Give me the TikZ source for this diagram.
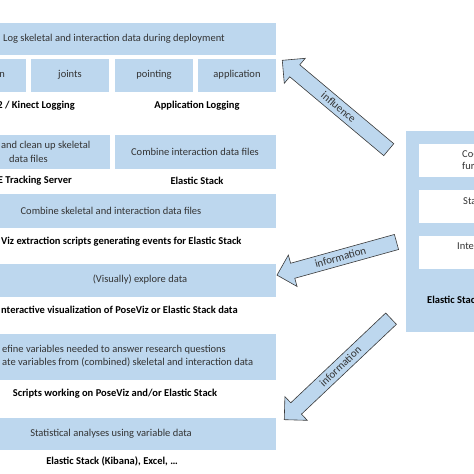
\documentclass[tikz,border=0pt]{standalone}
\usepackage{fontspec}
\setmainfont{Carlito}
\usetikzlibrary{shapes.arrows}
\definecolor{boxblue}{HTML}{BDD7EE}
\definecolor{arrowline}{HTML}{3A3A3A}
\definecolor{boxtext}{HTML}{333333}

\begin{document}
\begin{tikzpicture}[
  x=1pt, y=-1pt,
  font=\fontsize{10.5}{12.5}\selectfont,
  box/.style={fill=boxblue, draw=none, anchor=north west, inner sep=0pt},
  whitebox/.style={fill=white, draw=none, anchor=north west, inner sep=0pt},
  txt/.style={text=boxtext, inner sep=0pt},
  lbl/.style={font=\fontsize{10.5}{12.5}\selectfont\bfseries, inner sep=0pt},
  bigarrow/.style={single arrow, draw=arrowline, fill=boxblue, semithick,
                   font=\fontsize{11}{13}\selectfont,
                   single arrow head extend=8.5pt, inner xsep=1pt, inner ysep=0pt,
                   text height=11pt, text depth=4pt,
                   shape border rotate=180, text=boxtext},
]
\useasboundingbox (0,0) rectangle (474,474);
\clip (0,0) rectangle (474,474);

% deployment logging
\node[box, minimum width=316pt, minimum height=32pt] (logbox) at (-40,23) {};
\node[txt, anchor=west] (logtxt) at (3,39) {Log skeletal and interaction data during deployment};

\node[box, minimum width=66pt, minimum height=33pt] (skelbox) at (-40,59) {};
\node[txt, anchor=east] (skeltxt) at (5,75) {n};
\node[box, minimum width=78pt, minimum height=33pt] (joints) at (31,59) {};
\node[txt] (jointstxt) at (70,75) {joints};
\node[box, minimum width=78pt, minimum height=33pt] (pointing) at (115,59) {};
\node[txt] (pointingtxt) at (154,75) {pointing};
\node[box, minimum width=78pt, minimum height=33pt] (application) at (198,59) {};
\node[txt] (applicationtxt) at (237,75) {application};

\node[lbl, anchor=east] (kinectlbl) at (75,106) {2 / Kinect Logging};
\node[lbl] (applbl) at (197,106) {Application Logging};

% cleaning
\node[box, minimum width=150pt, minimum height=34pt] (cleanbox) at (-40,135) {};
\node[txt, anchor=west] (cleantxt1) at (1,146) {and clean up skeletal};
\node[txt, anchor=west] (cleantxt2) at (9,159) {data files};
\node[box, minimum width=161pt, minimum height=34pt] (combinebox) at (115,135) {};
\node[txt] (combinetxt) at (195,152) {Combine interaction data files};

\node[lbl, anchor=east] (trackinglbl) at (72,181) {E Tracking Server};
\node[lbl] (elasticlbl) at (197,181) {Elastic Stack};

% merging
\node[box, minimum width=316pt, minimum height=34pt] (mergebox) at (-40,194) {};
\node[txt] (mergetxt) at (111,211) {Combine skeletal and interaction data files};
\node[lbl, anchor=west] (extractlbl) at (1,242) {Viz extraction scripts generating events for Elastic Stack};

% exploring
\node[box, minimum width=316pt, minimum height=33pt] (explorebox) at (-40,264) {};
\node[txt] (exploretxt) at (140,280) {(Visually) explore data};
\node[lbl, anchor=west] (explorelbl) at (1,310) {nteractive visualization of PoseViz or Elastic Stack data};

% variables
\node[box, minimum width=316pt, minimum height=46pt] (varbox) at (-40,334) {};
\node[txt, anchor=west, align=left] (vartxt) at (2,356)
  {efine variables needed to answer research questions\\ate variables from (combined) skeletal and interaction data};
\node[lbl] (scriptlbl) at (115,394) {Scripts working on PoseViz and/or Elastic Stack};

% statistics
\node[box, minimum width=316pt, minimum height=32pt] (statbox) at (-40,418) {};
\node[txt] (stattxt) at (111,434) {Statistical analyses using variable data};
\node[lbl] (statlbl) at (112,461) {Elastic Stack (Kibana), Excel, \dots};

% right panel
\node[box, minimum width=90pt, minimum height=201pt] (panel) at (406,131) {};
\node[whitebox, minimum width=80pt, minimum height=33pt] (panelA) at (419,144) {};
\node[txt, anchor=west, align=left] (panelAtxt) at (462,160) {Co-\\fur};
\node[whitebox, minimum width=80pt, minimum height=33pt] (panelB) at (419,190) {};
\node[txt, anchor=west] (panelBtxt) at (463,201) {Sta};
\node[whitebox, minimum width=80pt, minimum height=33pt] (panelC) at (419,236) {};
\node[txt, anchor=west] (panelCtxt) at (457,246) {Inte};
\node[lbl, anchor=west] (panellbl) at (427,300) {Elastic Stac};

% block arrows
\node[bigarrow, minimum height=139pt, rotate=-40] (influence) at (338.5,107.5) {influence};
\node[bigarrow, minimum height=124pt, rotate=15.5] (info1) at (340.5,257.5) {information};
\node[bigarrow, minimum height=147pt, rotate=43.4] (info2) at (340.5,366.5) {information};

\end{tikzpicture}
\end{document}
